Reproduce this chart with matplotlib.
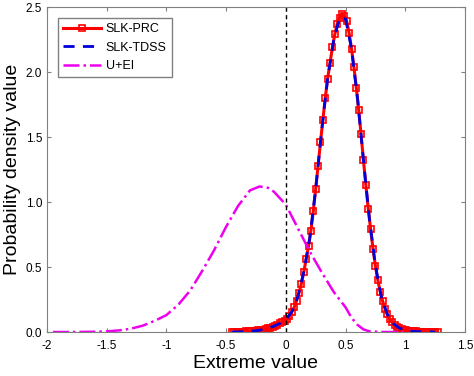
import numpy as np
import matplotlib
matplotlib.use("Agg")
import matplotlib.pyplot as plt

plt.rcParams['font.family'] = ['Liberation Sans', 'DejaVu Sans']

# SLK-PRC density, sampled every 0.02 from -0.45 to 1.27
prc_y = [0.000, 0.001, 0.001, 0.002, 0.002, 0.003, 0.004, 0.005, 0.006, 0.008,
         0.010, 0.013, 0.016, 0.019, 0.023, 0.028, 0.034, 0.041, 0.049, 0.057,
         0.066, 0.076, 0.088, 0.102, 0.125, 0.155, 0.19, 0.24, 0.30, 0.37,
         0.46, 0.56, 0.66, 0.78, 0.93, 1.10, 1.28, 1.46, 1.63, 1.80,
         1.95, 2.07, 2.19, 2.29, 2.37, 2.42, 2.45, 2.43, 2.39, 2.30,
         2.18, 2.04, 1.88, 1.71, 1.52, 1.32, 1.13, 0.95, 0.79, 0.64,
         0.51, 0.40, 0.31, 0.24, 0.18, 0.135, 0.10, 0.075, 0.055, 0.041,
         0.030, 0.022, 0.016, 0.012, 0.009, 0.006, 0.005, 0.004, 0.003, 0.002,
         0.002, 0.001, 0.001, 0.001, 0.000, 0.000, 0.000]
prc_x = np.linspace(-0.45, 1.27, len(prc_y))

# SLK-TDSS density, sampled every 0.05 from -0.45 to 1.25
tdss_y = [0.000, 0.001, 0.003, 0.005, 0.010, 0.017, 0.028, 0.045, 0.066, 0.095,
          0.155, 0.27, 0.46, 0.72, 1.10, 1.55, 1.95, 2.24, 2.42, 2.41,
          2.18, 1.80, 1.32, 0.87, 0.51, 0.27, 0.135, 0.065, 0.030, 0.014,
          0.006, 0.003, 0.002, 0.001, 0.000]
tdss_x = np.linspace(-0.45, 1.25, len(tdss_y))

# U+EI density
uei_x = [-1.95, -1.8, -1.6, -1.5, -1.4, -1.3, -1.2, -1.1, -1.0, -0.9,
         -0.8, -0.7, -0.6, -0.5, -0.4, -0.3, -0.22, -0.15, -0.1, 0.0,
         0.1, 0.2, 0.3, 0.4, 0.5, 0.55, 0.6, 0.65, 0.7, 0.8, 0.9, 1.0]
uei_y = [0.0, 0.0, 0.002, 0.005, 0.012, 0.025, 0.048, 0.085, 0.13, 0.21,
         0.32, 0.47, 0.63, 0.81, 0.97, 1.09, 1.12, 1.11, 1.08, 0.98,
         0.80, 0.62, 0.46, 0.31, 0.19, 0.11, 0.055, 0.02, 0.005, 0.0, 0.0, 0.0]

fig = plt.figure(figsize=(4.74, 3.76), dpi=100)
ax = fig.add_axes([0.099, 0.117, 0.882, 0.864])

ax.plot(prc_x, prc_y, color='red', lw=2.2, marker='s', ms=4.8,
        mfc='none', mec='red', mew=1.2, label='SLK-PRC')
ax.plot(tdss_x, tdss_y, color='#0000dd', lw=2, ls=(0, (4, 3)), label='SLK-TDSS')
ax.plot(uei_x, uei_y, color='#ee00ee', lw=1.8, ls='-.', label='U+EI')
ax.axvline(0, color='black', lw=1, ls=(0, (3, 2.5)))

ax.set_xlim(-2, 1.5)
ax.set_ylim(0, 2.5)
ax.set_xticks([-2, -1.5, -1, -0.5, 0, 0.5, 1, 1.5])
ax.set_xticklabels(['-2', '-1.5', '-1', '-0.5', '0', '0.5', '1', '1.5'])
ax.set_yticks([0, 0.5, 1.0, 1.5, 2.0, 2.5])
ax.set_yticklabels(['0.0', '0.5', '1.0', '1.5', '2.0', '2.5'])
ax.tick_params(direction='in', top=True, right=True, labelsize=8.5,
               length=3, color='#808080')
ax.tick_params(axis='x', pad=6)
for s in ax.spines.values():
    s.set_color('#808080')

ax.set_xlabel('Extreme value', fontsize=14, labelpad=2)
ax.set_ylabel('Probability density value', fontsize=14, labelpad=3)

leg = ax.legend(loc='upper left', fontsize=9, handlelength=3.0,
                borderaxespad=0.9, fancybox=False, framealpha=1,
                handletextpad=0.4, labelspacing=0.5)
leg.get_frame().set_edgecolor('#808080')

fig.savefig('out.png', dpi=100)
